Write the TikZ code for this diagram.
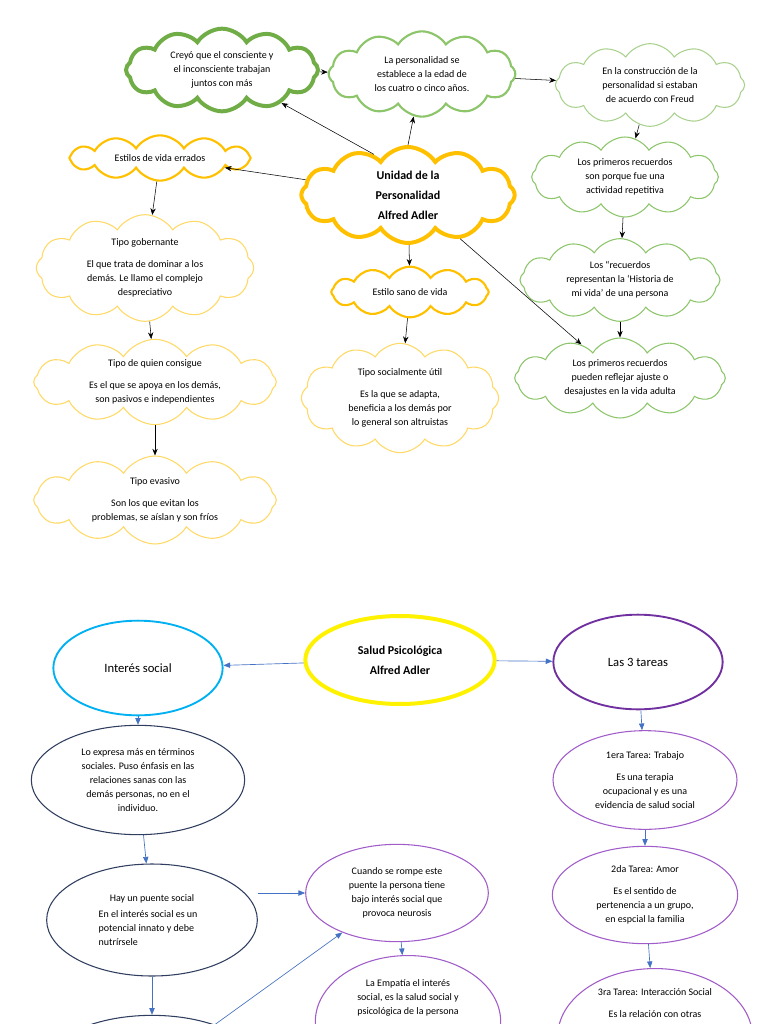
\documentclass[tikz,border=0pt]{standalone}
\usepackage{fontspec}
\setmainfont{Carlito}
\usetikzlibrary{shapes.symbols,shapes.geometric,arrows.meta}
\definecolor{gA}{HTML}{70AD47}
\definecolor{gB}{HTML}{8CC56A}
\definecolor{gC}{HTML}{A9D18E}
\definecolor{oA}{HTML}{FFC000}
\definecolor{yL}{HTML}{FFD966}
\definecolor{bA}{HTML}{4472C4}
\definecolor{cy}{HTML}{00B0F0}
\definecolor{pu}{HTML}{7030A0}
\definecolor{pl}{HTML}{A05CC8}
\definecolor{nv}{HTML}{2F3E5F}
\tikzset{
 cl/.style={cloud, cloud puffs=12, cloud puff arc=115, cloud ignores aspect, draw, inner sep=0pt},
 tx/.style={align=center, inner sep=0pt, font=\fontsize{7.5}{10.5}\selectfont},
 el/.style={ellipse, draw, inner sep=0pt, align=center, font=\fontsize{7.5}{10.5}\selectfont},
 ka/.style={-{Stealth[length=5pt,width=4pt]}, black, line width=0.4pt},
 ba/.style={-{Triangle[length=5pt,width=4pt]}, bA, line width=0.5pt},
}
\begin{document}
\begin{tikzpicture}[x=0.75pt,y=-0.75pt]
\useasboundingbox (0,0) rectangle (768,1024);
\clip (0,0) rectangle (768,1024);
% top clouds
\node[cl, gA, line width=3pt, minimum width=144pt, minimum height=62pt] (c1) at (222,70) {};
\node[tx] at (c1) {Creyó que el consciente y\\el inconsciente trabajan\\juntos con más};
\node[cl, gB, line width=1.6pt, minimum width=140pt, minimum height=64pt] (c2) at (422,74) {};
\node[tx] at (c2) {La personalidad se\\establece a la edad de\\los cuatro o cinco años.};
\node[cl, gC, line width=0.8pt, minimum width=142pt, minimum height=62pt] (c3) at (650,85) {};
\node[tx] at (c3) {En la construcción de la\\personalidad si estaban\\de acuerdo con Freud};
\node[cl, gB, line width=0.8pt, minimum width=140pt, minimum height=60pt] (c4) at (625,177) {};
\node[tx] at (c4) {Los primeros recuerdos\\son porque fue una\\actividad repetitiva};
\node[cl, gB, line width=0.8pt, minimum width=150pt, minimum height=62pt] (c5) at (620,280) {};
\node[tx] at (c5) {Los “recuerdos\\representan la ‘Historia de\\mi vida’ de una persona};
\node[cl, gB, line width=0.8pt, minimum width=158pt, minimum height=60pt] (c6) at (620,378) {};
\node[tx] at (c6) {Los primeros recuerdos\\pueden reflejar ajuste o\\desajustes en la vida adulta};
\node[cl, oA, line width=3pt, minimum width=160pt, minimum height=72pt] (u) at (408,195) {};
\node[tx, font=\bfseries\fontsize{9}{15}\selectfont] at (u) {Unidad de la\\Personalidad\\Alfred Adler};
\node[cl, oA, line width=1.6pt, minimum width=136pt, minimum height=34pt] (e1) at (160,158) {};
\node[tx] at (e1) {Estilos de vida errados};
\node[cl, yL, line width=0.8pt, minimum width=163pt, minimum height=80pt] (e2) at (145,268) {};
\node[tx] at (e2) {Tipo gobernante\\[6pt]El que trata de dominar a los\\demás. Le llamo el complejo\\despreciativo};
\node[cl, yL, line width=0.8pt, minimum width=182pt, minimum height=64pt] (e3) at (155,382) {};
\node[tx] at (e3) {Tipo de quien consigue\\[6pt]Es el que se apoya en los demás,\\son pasivos e independientes};
\node[cl, yL, line width=0.8pt, minimum width=182pt, minimum height=66pt] (e4) at (155,500) {};
\node[tx] at (e4) {Tipo evasivo\\[6pt]Son los que evitan los\\problemas, se aíslan y son fríos};
\node[cl, oA, line width=1.6pt, minimum width=118pt, minimum height=38pt] (s1) at (410,292) {};
\node[tx] at (s1) {Estilo sano de vida};
\node[cl, yL, line width=0.8pt, minimum width=148pt, minimum height=82pt] (s2) at (400,398) {};
\node[tx] at (s2) {Tipo socialmente útil\\[6pt]Es la que se adapta,\\beneficia a los demás por\\lo general son altruistas};
\draw[ka] (u.130) -- (c1);
\draw[ka] (u.north) -- (c2);
\draw[ka] (c1) -- (c2);
\draw[ka] (c2) -- (c3);
\draw[ka] (c3) -- (c4);
\draw[ka] (c4) -- (c5);
\draw[ka] (c5) -- (c6);
\draw[ka] (u) -- (e1);
\draw[ka] (e1) -- (e2);
\draw[ka] (e2) -- (e3);
\draw[ka] (e3) -- (e4);
\draw[ka] (u) -- (s1);
\draw[ka] (s1) -- (s2);
\draw[ka] (u.-40) -- (c6);
% bottom
\node[el, yellow, line width=3pt, text=black, minimum width=142pt, minimum height=66pt, font=\bfseries\fontsize{9}{15}\selectfont] (sp) at (400,660) {Salud Psicológica\\Alfred Adler};
\node[el, cy, line width=1.4pt, text=black, minimum width=127pt, minimum height=71pt, font=\fontsize{9.5}{12}\selectfont] (is) at (138,668) {Interés social};
\node[el, pu, line width=1.4pt, text=black, minimum width=127pt, minimum height=71pt, font=\fontsize{9.5}{12}\selectfont] (lt) at (638,662) {Las 3 tareas};
\node[el, nv, line width=0.8pt, text=black, minimum width=160pt, minimum height=82pt] (b1) at (138,780) {Lo expresa más en términos\\sociales. Puso énfasis en las\\relaciones sanas con las\\demás personas, no en el\\individuo.};
\node[el, nv, line width=0.8pt, text=black, minimum width=158pt, minimum height=84pt] (b2) at (152,920) {Hay un puente social\\[5pt]{\parbox{80pt}{\raggedright En el interés social es un potencial innato y debe nutrírsele}}};
\node[el, nv, line width=0.8pt, minimum width=165pt, minimum height=82pt] (b3) at (152,1070) {};
\node[el, pl, line width=0.8pt, text=black, minimum width=137pt, minimum height=73pt] (m1) at (397,893) {Cuando se rompe este\\puente la persona tiene\\bajo interés social que\\provoca neurosis};
\node[el, pl, line width=0.8pt, text=black, minimum width=139pt, minimum height=80pt, anchor=north] (m2) at (408,955) {\\[-2pt]La Empatía el interés\\social, es la salud social y\\psicológica de la persona\\[30pt]};
\node[el, pl, line width=0.8pt, text=black, minimum width=138pt, minimum height=74pt] (r1) at (645,780) {1era Tarea: Trabajo\\[6pt]Es una terapia\\ocupacional y es una\\evidencia de salud social};
\node[el, pl, line width=0.8pt, text=black, minimum width=139pt, minimum height=73pt] (r2) at (645,895) {2da Tarea: Amor\\[6pt]Es el sentido de\\pertenencia a un grupo,\\en espcial la familia};
\node[el, pl, line width=0.8pt, text=black, minimum width=146pt, minimum height=88pt, anchor=north] (r3) at (655,968) {3ra Tarea: Interacción Social\\[6pt]Es la relación con otras\\[40pt]};
\draw[ba] (sp) -- (is);
\draw[ba] (sp) -- (lt);
\draw[ba] (is) -- (b1);
\draw[ba] (b1) -- (b2);
\draw[ba] (b2) -- (b3);
\draw[ba] (b2.east |- m1.west) -- (m1.west);
\draw[ba] (b3) -- (m1);
\draw[ba] (m1) -- (m2);
\draw[ba] (lt) -- (r1);
\draw[ba] (r1) -- (r2);
\draw[ba] (r2) -- (r3);
\end{tikzpicture}
\end{document}
